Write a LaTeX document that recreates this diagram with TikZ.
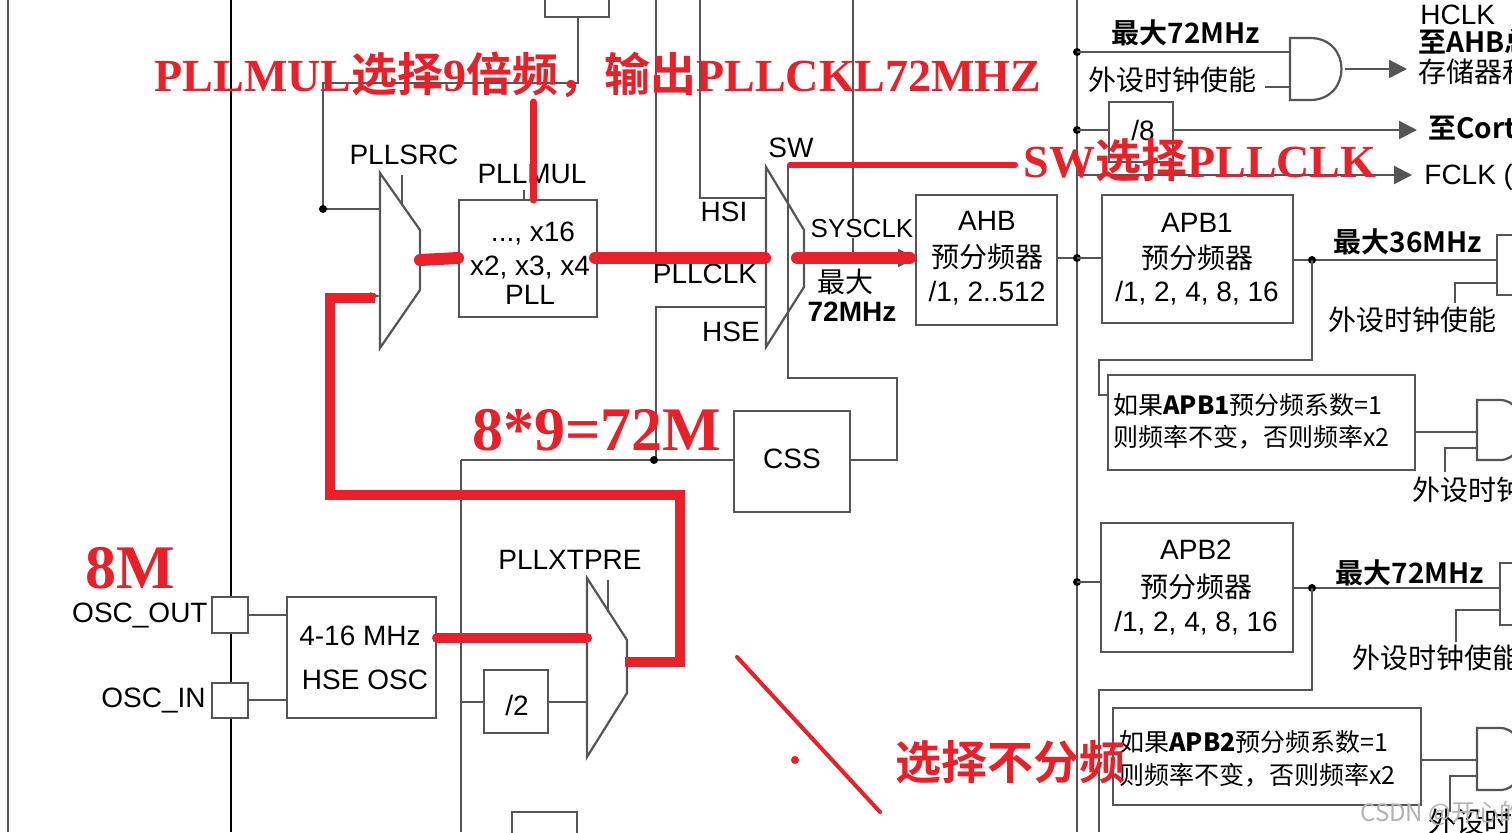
\documentclass[tikz,border=0pt]{standalone}
\usepackage{fontspec}
\setmainfont{Liberation Sans}
\newfontfamily\cjk{Noto Sans CJK SC}
\newfontfamily\cjkb{Noto Sans CJK SC}[UprightFont=* Bold]
\newfontfamily\rserif{Liberation Serif}[UprightFont=* Bold]
\usetikzlibrary{arrows.meta}
\newcommand\fs[1]{\fontsize{#1}{#1}\selectfont}
\definecolor{ln}{RGB}{85,85,85}
\definecolor{rd}{RGB}{232,32,42}
\tikzset{
  wire/.style={draw=ln,line width=1.1pt},
  bus/.style={draw=black,line width=1.4pt},
  blk/.style={draw=ln,line width=1.1pt,fill=white},
  lbl/.style={inner sep=0pt,font=\fs{14}},
  clbl/.style={inner sep=0pt,font=\cjk\fs{14}},
  red1/.style={draw=rd,line width=5pt,line cap=round},
  redt/.style={inner sep=0pt,text=rd},
  dot/.style={circle,fill=black,inner sep=0pt,minimum size=4pt},
  arr/.style={-{Triangle[length=9pt,width=9pt]}}
}
\begin{document}
\begin{tikzpicture}[x=0.5pt,y=-0.5pt]
\useasboundingbox (0,0) rectangle (1512,832);
\fill[white] (0,0) rectangle (1512,832);
\clip (0,0) rectangle (1512,832);
% main vertical lines
\draw[wire] (8,0) -- (8,832);
\draw[bus] (231,0) -- (231,832);
\draw[wire,line width=1.4pt] (1077,0) -- (1077,832);
\draw[wire] (461,460) -- (461,832);
% top small box and PLLSRC feed
\draw[blk] (545,-5) rectangle (609,17);
\draw[wire] (578,17) -- (578,83) -- (323,83) -- (323,209) -- (380,209);
\node[dot] (d1) at (323,209) {};
% PLLSRC mux
\draw[blk] (380,173) -- (420,230) -- (420,290) -- (380,348) -- cycle;
\draw[wire] (402,175) -- (402,205);
\node[lbl] (pllsrc) at (404,155) {PLLSRC};
\draw[wire,-{Stealth[length=5pt]}] (335,296) -- (380,296);
% PLL box
\draw[blk] (459,200) rectangle (597,317);
\node[lbl] (x16) at (533,234) {..., x16};
\node[lbl] (x234) at (530,268) {x2, x3, x4};
\node[lbl] (plll) at (530,295) {PLL};
\node[lbl] (pllmul) at (532,174) {PLLMUL};
\draw[wire] (524,190) -- (524,200);
\draw[wire] (420,258) -- (459,258);
% PLLCLK line and HSI/HSE
\draw[wire] (597,258) -- (766,258);
\draw[wire] (656,0) -- (656,258);
\draw[wire] (700,0) -- (700,198) -- (766,198);
\draw[wire] (766,307) -- (656,307) -- (656,460);
\node[lbl] (hsi) at (724,212) {HSI};
\node[lbl] (pllclk) at (705,274) {PLLCLK};
\node[lbl] (hse) at (731,332) {HSE};
% SW mux
\draw[blk] (766,167) -- (804,230) -- (804,287) -- (766,347) -- cycle;
\draw[wire] (788,165) -- (788,378) -- (897,378) -- (897,460) -- (850,460);
\node[lbl] (sw) at (791,148) {SW};
\draw[wire] (853,0) -- (853,258);
\draw[wire,arr] (804,258) -- (916,258);
\node[lbl,fill=white,font=\fs{13}] (sysclk) at (862,229) {SYSCLK};
\node[clbl] (max1) at (845,282) {最大};
\node[lbl,font=\bfseries\fs{14}] (m72) at (852,312) {72MHz};
% CSS
\draw[blk] (734,411) rectangle (850,512);
\node[lbl] (css) at (792,459) {CSS};
\draw[wire] (461,460) -- (734,460);
\node[dot] (d2) at (654,460) {};
% AHB
\draw[blk] (916,195) rectangle (1057,325);
\node[lbl] (ahb) at (987,221) {AHB};
\node[clbl] (ahb2) at (987,257) {预分频器};
\node[lbl] (ahb3) at (987,293) {/1, 2..512};
\draw[wire] (1057,258) -- (1077,258);
% right top outputs
\node[dot] (d3) at (1077,52) {};
\node[dot] (d4) at (1077,130) {};
\node[dot] (d5) at (1077,258) {};
\node[dot] (d6) at (1077,582) {};
\draw[wire] (1077,52) -- (1290,52);
\draw[blk] (1290,38) -- (1310,38) .. controls (1352,38) and (1352,100) .. (1310,100) -- (1290,100) -- cycle;
\draw[wire] (1265,87) -- (1290,87);
\draw[wire,arr] (1345,69) -- (1407,69);
\node[clbl,font=\cjkb\fs{14}] (m72a) at (1186,33) {最大72MHz};
\node[clbl] (en1) at (1172,80) {外设时钟使能};
\node[lbl,anchor=west] (hclk) at (1420,15) {HCLK};
\node[clbl,anchor=west,font=\cjkb\fs{14}] (hclk2) at (1418,42) {至AHB总线};
\node[clbl,anchor=west] (hclk3) at (1418,72) {存储器和DMA};
\draw[blk] (1109,102) rectangle (1173,162);
\node[lbl] (d8) at (1143,130) {/8};
\draw[wire] (1077,130) -- (1109,130);
\draw[wire,arr] (1173,130) -- (1417,130);
\node[clbl,anchor=west,font=\cjkb\fs{14}] (cortex) at (1428,128) {至Cortex系统定时器};
\draw[wire,arr] (1077,175) -- (1412,175);
\node[lbl,anchor=west] (fclk) at (1424,177) {FCLK (};
% APB1
\draw[blk] (1102,195) rectangle (1293,323);
\node[lbl] (apb1) at (1197,223) {APB1};
\node[clbl] (apb1b) at (1197,258) {预分频器};
\node[lbl] (apb1c) at (1197,293) {/1, 2, 4, 8, 16};
\draw[wire] (1077,258) -- (1102,258);
\draw[wire] (1293,260) -- (1500,260);
\node[dot] (d7) at (1312,260) {};
\node[clbl,font=\cjkb\fs{14}] (m36) at (1408,242) {最大36MHz};
\draw[blk] (1497,235) -- (1520,235) -- (1520,295) -- (1497,295) -- cycle;
\draw[wire] (1455,303) -- (1455,283) -- (1497,283);
\node[clbl] (en2) at (1412,320) {外设时钟使能};
\draw[wire] (1312,260) -- (1312,360) -- (1099,360) -- (1099,395) -- (1108,395);
\draw[blk] (1108,375) rectangle (1415,470);
\node[clbl,anchor=west,font=\cjk\fs{12.5}] (if1) at (1113,405) {如果\textbf{APB1}预分频系数=1};
\node[clbl,anchor=west,font=\cjk\fs{12.5}] (if1b) at (1113,437) {则频率不变，否则频率x2};
\draw[wire] (1415,432) -- (1477,432);
\draw[blk] (1477,400) -- (1500,400) .. controls (1530,400) and (1530,460) .. (1500,460) -- (1477,460) -- cycle;
\draw[wire] (1445,472) -- (1445,448) -- (1477,448);
\node[clbl,anchor=west] (en3) at (1412,490) {外设时钟使能};
% APB2
\draw[blk] (1101,523) rectangle (1293,652);
\node[lbl] (apb2) at (1196,550) {APB2};
\node[clbl] (apb2b) at (1196,587) {预分频器};
\node[lbl] (apb2c) at (1196,623) {/1, 2, 4, 8, 16};
\draw[wire] (1077,582) -- (1101,582);
\draw[wire] (1293,588) -- (1500,588);
\node[dot] (d8b) at (1312,588) {};
\node[clbl,font=\cjkb\fs{14}] (m72b) at (1410,573) {最大72MHz};
\draw[blk] (1500,563) -- (1520,563) -- (1520,625) -- (1500,625) -- cycle;
\draw[wire] (1456,642) -- (1456,610) -- (1500,610);
\node[clbl,anchor=west] (en4) at (1352,658) {外设时钟使能};
\draw[wire] (1312,588) -- (1312,690) -- (1099,690) -- (1099,832);
\draw[blk] (1113,708) rectangle (1421,805);
\node[clbl,anchor=west,font=\cjk\fs{12.5}] (if2) at (1119,742) {如果\textbf{APB2}预分频系数=1};
\node[clbl,anchor=west,font=\cjk\fs{12.5}] (if2b) at (1119,775) {则频率不变，否则频率x2};
\draw[wire] (1421,760) -- (1477,760);
\draw[blk] (1477,728) -- (1500,728) .. controls (1530,728) and (1530,790) .. (1500,790) -- (1477,790) -- cycle;
\draw[wire] (1450,812) -- (1450,776) -- (1477,776);
\node[clbl,anchor=west] (en5) at (1428,822) {外设时钟};
\node[clbl,anchor=west,text=gray!60,font=\cjk\fs{12}] (wm) at (1360,813) {CSDN @开心的狗};
% HSE OSC
\draw[blk] (212,597) rectangle (248,633);
\draw[blk] (212,683) rectangle (248,718);
\node[lbl,anchor=east] (oscout) at (208,615) {OSC\_OUT};
\node[lbl,anchor=east] (oscin) at (206,700) {OSC\_IN};
\draw[blk] (287,597) rectangle (436,718);
\draw[wire] (248,615) -- (287,615);
\draw[wire] (248,700) -- (287,700);
\node[lbl] (hse1) at (360,636) {4-16 MHz};
\node[lbl] (hse2) at (365,680) {HSE OSC};
\draw[wire] (436,637) -- (587,637);
\draw[blk] (484,670) rectangle (548,733);
\node[lbl] (div2) at (517,705) {/2};
\draw[wire] (461,702) -- (484,702);
\draw[wire] (548,702) -- (587,702);
\draw[blk] (587,578) -- (627,640) -- (627,693) -- (587,757) -- cycle;
\draw[wire] (608,580) -- (608,612);
\node[lbl] (xtpre) at (570,560) {PLLXTPRE};
\draw[blk] (512,812) rectangle (577,840);
% red annotations
\node[redt,font=\rserif\fs{23}] (t1) at (598,75) {PLLMUL{\cjkb 选择}9{\cjkb 倍频，输出}PLLCKL72MHZ};
\draw[red1,line width=3.5pt] (533,102) -- (533,200);
\draw[red1,line width=6pt] (420,260) -- (458,258);
\draw[red1,line width=6pt] (595,258) -- (765,258);
\draw[red1,line width=6pt] (797,258) -- (910,258);
\draw[red1,line width=3pt] (790,165) -- (1015,165);
\node[redt,font=\rserif\fs{23}] (t2) at (1200,160) {SW{\cjkb 选择}PLLCLK};
\draw[red1,line cap=butt,line join=miter] (375,298) -- (330,298) -- (330,495) -- (680,495) -- (680,662) -- (625,662);
\draw[red1] (437,638) -- (587,638);
\node[redt,font=\rserif\fs{31}] (t3) at (597,430) {8*9=72M};
\node[redt,font=\rserif\fs{31}] (t4) at (130,568) {8M};
\node[redt,font=\cjkb\fs{23}] (t5) at (1010,762) {选择不分频};
\draw[red1,line width=2pt] (737,657) -- (880,812);
\fill[rd] (795,760) circle (2pt);
\end{tikzpicture}
\end{document}
